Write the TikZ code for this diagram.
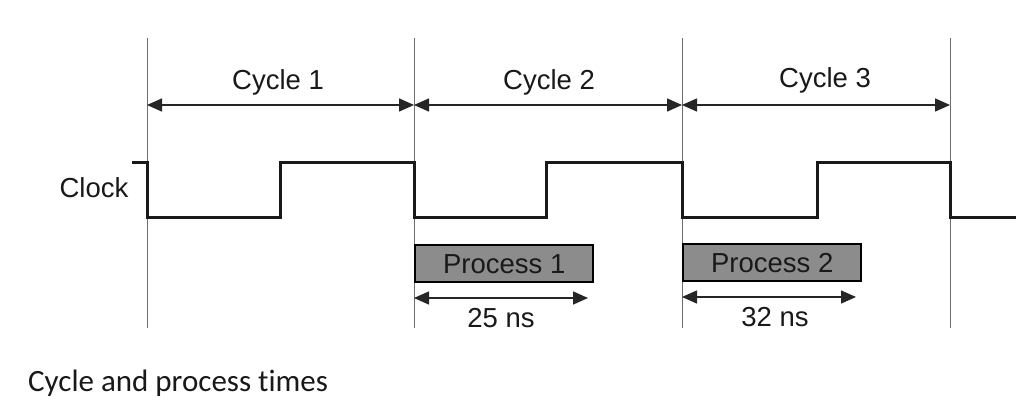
\documentclass[tikz,border=0pt]{standalone}
\usepackage{fontspec}
\setmainfont{Liberation Sans}
\newfontfamily\capfont[Ligatures=NoCommon]{Carlito}
\usetikzlibrary{arrows.meta}
\definecolor{procgray}{RGB}{140,140,140}
\definecolor{guidegray}{RGB}{110,110,110}
\begin{document}
\begin{tikzpicture}[x=1pt,y=-1pt,
  guide/.style={draw=guidegray,line width=0.9pt},
  dimline/.style={draw=black!85,line width=1.5pt,{Triangle[length=15pt,width=13pt]}-{Triangle[length=15pt,width=13pt]}},
  clk/.style={draw=black!90,line width=3pt,line join=miter},
  lbl/.style={font=\fontsize{27.5}{30}\selectfont,inner sep=0pt,text=black!90},
  procbox/.style={draw=black,line width=2.4pt,fill=procgray,minimum width=178pt,minimum height=37pt,inner sep=0pt,anchor=north west,font=\fontsize{27.5}{30}\selectfont,text=black!90},
  caption/.style={font=\capfont\fontsize{31}{34}\selectfont,inner sep=0pt,anchor=west,text=black!90}]
\useasboundingbox[fill=white] (0,0) rectangle (1024,409);
% vertical guides
\foreach \i/\x in {1/147,2/414,3/682,4/950}{
  \coordinate (t\i) at (\x,38);
  \coordinate (b\i) at (\x,328);
  \coordinate (a\i) at (\x,105);
  \draw[guide] (t\i) -- (b\i);
}
\draw[dimline] (a1) -- (a2);
\draw[dimline] (a2) -- (a3);
\draw[dimline] (a3) -- (a4);
\node[lbl] (cy1) at (278,82) {Cycle 1};
\node[lbl] (cy2) at (549,82) {Cycle 2};
\node[lbl] (cy3) at (825,80) {Cycle 3};
% clock
\node[lbl] (clock) at (94,188) {Clock};
\coordinate (cs) at (132,162);
\coordinate (ce) at (1016,217);
\draw[clk] (cs) -- (147,162) -- (147,217) -- (280,217) -- (280,162) -- (414,162) -- (414,217)
  -- (546,217) -- (546,162) -- (682,162) -- (682,217) -- (817,217) -- (817,162)
  -- (950,162) -- (950,217) -- (ce);
% processes
\node[procbox] (p1) at (414,244) {Process 1};
\node[procbox] (p2) at (682,243) {Process 2};
\coordinate (d1s) at (414,298);
\coordinate (d1e) at (588,298);
\coordinate (d2s) at (682,297);
\coordinate (d2e) at (856,297);
\draw[dimline] (d1s) -- (d1e);
\draw[dimline] (d2s) -- (d2e);
\node[lbl] (n1) at (501,318) {25 ns};
\node[lbl] (n2) at (775,317) {32 ns};
\node[caption] (cap) at (28,383) {Cycle and process times};
\end{tikzpicture}
\end{document}
